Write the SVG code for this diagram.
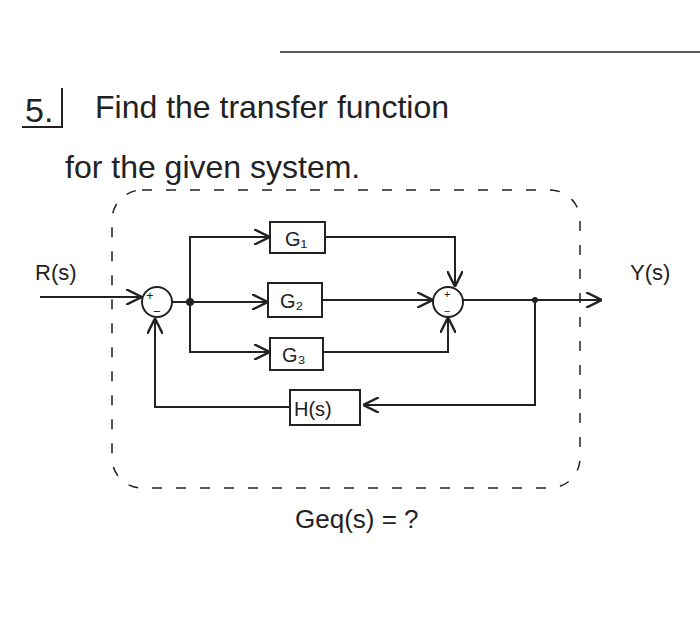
<svg xmlns="http://www.w3.org/2000/svg" width="700" height="634" viewBox="0 0 700 634">
<style>
.t{font-family:"Liberation Sans",sans-serif;fill:#222}
.l{stroke:#222;stroke-width:2;fill:none}
.b{stroke:#222;stroke-width:2;fill:#fff}
.d{stroke:#222;stroke-width:1.5;fill:none;stroke-dasharray:10 14}
</style>
<defs><marker id="a" viewBox="0 0 10 10" refX="9" refY="5" markerWidth="8" markerHeight="8" orient="auto"><path d="M0,0 L10,5 L0,10" fill="none" stroke="#222" stroke-width="1.5"/></marker></defs>
<rect width="700" height="634" fill="#fff"/>
<line x1="280" y1="52" x2="700" y2="52" stroke="#222" stroke-width="1.5"/>
<g id="title">
<text class="t" x="25" y="122" font-size="34">5.</text>
<path class="l" d="M22,127 H62 V88"/>
<text class="t" x="95" y="118" font-size="32">Find the transfer function</text>
<text class="t" x="65" y="178" font-size="32">for the given system.</text>
</g>
<rect class="d" x="112" y="190" width="468" height="298" rx="30"/>
<g id="connectors">
<path class="l" d="M40,297 H140" marker-end="url(#a)"/>
<path class="l" d="M172,302 H190"/>
<circle cx="190" cy="302" r="4" fill="#222"/>
<path class="l" d="M190,302 V237 H268" marker-end="url(#a)"/>
<path class="l" d="M190,302 H266" marker-end="url(#a)"/>
<path class="l" d="M190,302 V352 H268" marker-end="url(#a)"/>
<path class="l" d="M325,237 H455 V285" marker-end="url(#a)"/>
<path class="l" d="M322,300 H431" marker-end="url(#a)"/>
<path class="l" d="M323,352 H448 V319" marker-end="url(#a)"/>
<path class="l" d="M463,300 H600" marker-end="url(#a)"/>
<circle cx="535" cy="300" r="3" fill="#222"/>
<path class="l" d="M535,300 V405 H365" marker-end="url(#a)"/>
<path class="l" d="M290,407 H155 V320" marker-end="url(#a)"/>
</g>
<g id="sum1"><circle class="b" cx="157" cy="302" r="15"/><text class="t" x="146" y="300" font-size="13">+</text><text class="t" x="153" y="316" font-size="13">−</text></g>
<g id="sum2"><circle class="b" cx="448" cy="302" r="15"/><text class="t" x="444" y="298" font-size="11">+</text><text class="t" x="444" y="315" font-size="11">−</text></g>
<g id="G1"><rect class="b" x="270" y="222" width="55" height="31"/><text class="t" x="285" y="246" font-size="20">G₁</text></g>
<g id="G2"><rect class="b" x="268" y="283" width="54" height="34"/><text class="t" x="280" y="308" font-size="20">G₂</text></g>
<g id="G3"><rect class="b" x="270" y="338" width="53" height="32"/><text class="t" x="282" y="362" font-size="20">G₃</text></g>
<g id="H"><rect class="b" x="290" y="390" width="70" height="35"/><text class="t" x="294" y="416" font-size="20">H(s)</text></g>
<text class="t" x="35" y="280" font-size="22">R(s)</text>
<text class="t" x="630" y="280" font-size="22">Y(s)</text>
<text class="t" x="295" y="528" font-size="26">Geq(s) = ?</text>
</svg>
